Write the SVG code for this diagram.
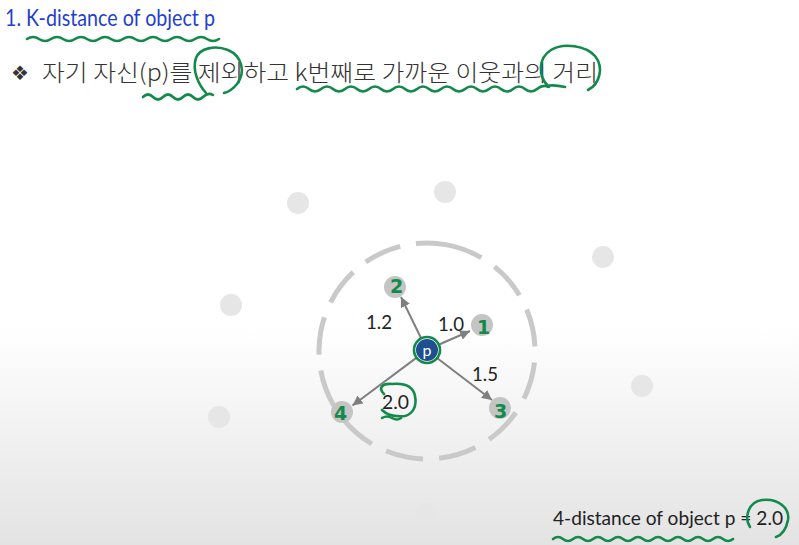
<svg xmlns="http://www.w3.org/2000/svg" width="799" height="545" viewBox="0 0 799 545">
<defs>
<linearGradient id="bg" x1="0" y1="0" x2="0" y2="545" gradientUnits="userSpaceOnUse">
<stop offset="0" stop-color="#ffffff"/>
<stop offset="0.6" stop-color="#ffffff"/>
<stop offset="1" stop-color="#e3e3e3"/>
</linearGradient>
<marker id="ah" markerWidth="5" markerHeight="5" refX="5" refY="2.5" orient="auto" markerUnits="strokeWidth">
<path d="M0,0 L5,2.5 L0,5 Z" fill="#7f7f7f"/>
</marker>
<style>
.pt{fill:#e6e6e6}
.nb{fill:#c4c4c4}
.edge{stroke:#7f7f7f;stroke-width:2;fill:none;marker-end:url(#ah)}
.lbl{font-family:Lato,"Open Sans",sans-serif;font-size:20px;fill:#222}
.ink{fill:none;stroke:#138a4c;stroke-width:2.6;stroke-linecap:round;stroke-linejoin:round}
.hand{font-family:"DejaVu Sans",sans-serif;font-size:19px;font-weight:bold;fill:#138a4c}
</style>
</defs>
<rect width="799" height="545" fill="url(#bg)"/>

<text x="5" y="26" font-family="Lato,'Open Sans',sans-serif" font-size="23" fill="#1f3fd0" textLength="210" lengthAdjust="spacingAndGlyphs">1. K-distance of object p</text>
<text x="11" y="80" font-family="'DejaVu Sans',sans-serif" font-size="20" fill="#333">❖</text>
<text x="42" y="81" font-family="'Noto Sans CJK KR',sans-serif" font-size="23" font-weight="300" fill="#333" textLength="556" lengthAdjust="spacingAndGlyphs">자기 자신(p)를 제외하고 k번째로 가까운 이웃과의 거리</text>

<g id="others">
<circle class="pt" cx="298" cy="203" r="11"/>
<circle class="pt" cx="445" cy="192" r="11"/>
<circle class="pt" cx="603" cy="257" r="11"/>
<circle class="pt" cx="231" cy="305" r="11"/>
<circle class="pt" cx="219" cy="417" r="11" fill="#e0e0e0"/>
<circle class="pt" cx="642" cy="386" r="11" fill="#e0e0e0"/>
<circle class="pt" cx="425" cy="514" r="11" fill="#dadada"/>
</g>

<g id="range">
<circle cx="427" cy="351" r="108" fill="none" stroke="#c9c9c9" stroke-width="5" stroke-dasharray="38 16" transform="rotate(-80 427 351)"/>
</g>

<g id="n2"><circle class="nb" cx="395" cy="287" r="11"/></g>
<g id="n1"><circle class="nb" cx="482" cy="325" r="11"/></g>
<g id="n3"><circle class="nb" cx="500" cy="408" r="11"/></g>
<g id="n4"><circle class="nb" cx="342" cy="412" r="11"/></g>

<g id="connectors">
<line class="edge" x1="421.6" y1="339.3" x2="401" y2="297"/>
<line class="edge" x1="438" y1="345" x2="470" y2="331"/>
<line class="edge" x1="436.4" y1="357.5" x2="492" y2="400"/>
<line class="edge" x1="417.3" y1="357.1" x2="352.5" y2="405.5"/>
</g>

<g id="p">
<circle cx="427" cy="350" r="11" fill="#1f4f8e"/>
<text x="427" y="356" text-anchor="middle" font-family="Lato,sans-serif" font-size="16" fill="#ffffff">p</text>
</g>

<g id="labels">
<text class="lbl" x="366" y="329" textLength="26" lengthAdjust="spacingAndGlyphs">1.2</text>
<text class="lbl" x="438" y="331" textLength="26" lengthAdjust="spacingAndGlyphs">1.0</text>
<text class="lbl" x="472" y="381" textLength="26" lengthAdjust="spacingAndGlyphs">1.5</text>
<text class="lbl" x="382" y="409" textLength="27" lengthAdjust="spacingAndGlyphs">2.0</text>
</g>

<text x="553" y="525" font-family="Lato,'Open Sans',sans-serif" font-size="19" fill="#222" textLength="230" lengthAdjust="spacingAndGlyphs">4-distance of object p = 2.0</text>

<g id="annotations">
<path class="ink" d="M27,39 q6,-4 12,0 t12,0 t12,0 t12,0 t12,0 t12,0 t12,0 t12,0 t12,0 t12,0 t12,0 t12,0 t12,0 t12,0 t12,0 t12,0"/>
<path class="ink" d="M143,97 q5,-5 10,0 t10,0 t10,0 t10,0 t10,0 t10,0 t10,-2"/>
<path class="ink" d="M206,93 C198,84 192,70 196,58 C200,48 215,45 228,50 C242,56 246,72 237,84 C233,89 228,92 224,93"/>
<path class="ink" d="M297,89 q6,-5 12,0 t12,0 t12,0 t12,0 t12,0 t12,0 t12,0 t12,0 t12,0 t12,0 t12,0 t12,0 t12,0 t12,0 t12,0 t12,0 t12,0 t12,0 t12,0 t12,0 t12,-2 C542,86 552,84 565,87"/>
<path class="ink" d="M548,86 C538,76 538,58 551,50 C564,42 586,46 595,56 C604,67 600,84 588,90"/>
<path class="ink" d="M553,539 q5,-4 10,0 t10,0 t10,0 t10,0 t10,0 t10,0 t10,0 t10,0 t10,0 t10,0 t10,0 t10,0 t10,0 t10,0 t10,0 t10,0 t10,0 t10,0"/>
<path class="ink" d="M750,527 C744,518 748,502 762,500 C778,498 790,508 788,520 C786,530 782,535 776,537"/>
<path class="ink" d="M384,394 C378,388 382,383 392,384 C404,383 413,386 415,396 C417,406 413,414 405,416 C396,417 387,415 382,410"/>
<path class="ink" d="M382,418 q5,-3 10,0 t9,0"/>
<circle class="ink" cx="427" cy="350" r="13"/>
<text class="hand" x="390" y="293">2</text>
<text class="hand" x="477" y="334">1</text>
<text class="hand" x="494" y="418">3</text>
<text class="hand" x="334" y="420">4</text>
</g>
</svg>
